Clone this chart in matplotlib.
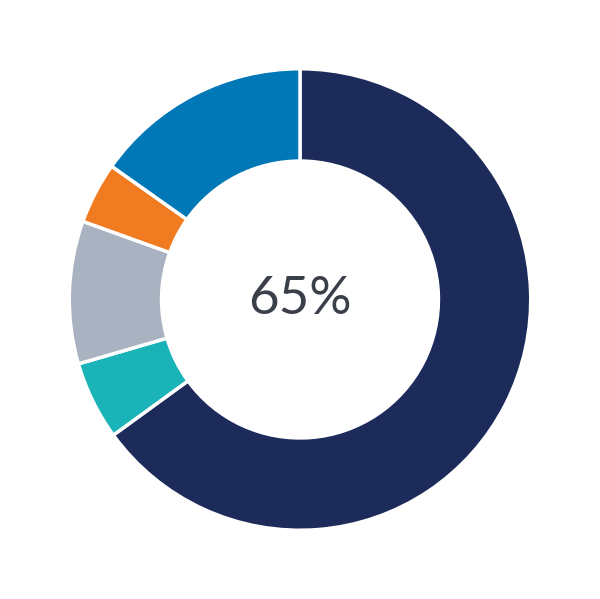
import matplotlib
matplotlib.use("Agg")
import matplotlib.pyplot as plt

# share of each slice, clockwise from 12 o'clock
labels = ["Main", "Teal", "Gray", "Orange", "Blue"]
values = [65, 5.5, 10, 4.3, 15.2]
colors = ["#1c2b5a", "#1ab4b8", "#a8b2c1", "#f07b20", "#0077b6"]
center_label = "65%"

fig = plt.figure(figsize=(6, 5.99), dpi=100)
ax = fig.add_axes([0, 0, 1, 1])

ax.pie(values, colors=colors, startangle=90, counterclock=False,
       radius=1.0,
       wedgeprops=dict(width=0.4, edgecolor="white", linewidth=2.5))

ax.text(0, 0, center_label, ha="center", va="center",
        fontsize=38, family=["Lato", "DejaVu Sans"], color="#3a3f4a")

ax.set_xlim(-1.3, 1.3)
ax.set_ylim(-1.298, 1.298)
ax.set_aspect("equal")
ax.axis("off")

fig.savefig("out.png", dpi=100, facecolor="white")
